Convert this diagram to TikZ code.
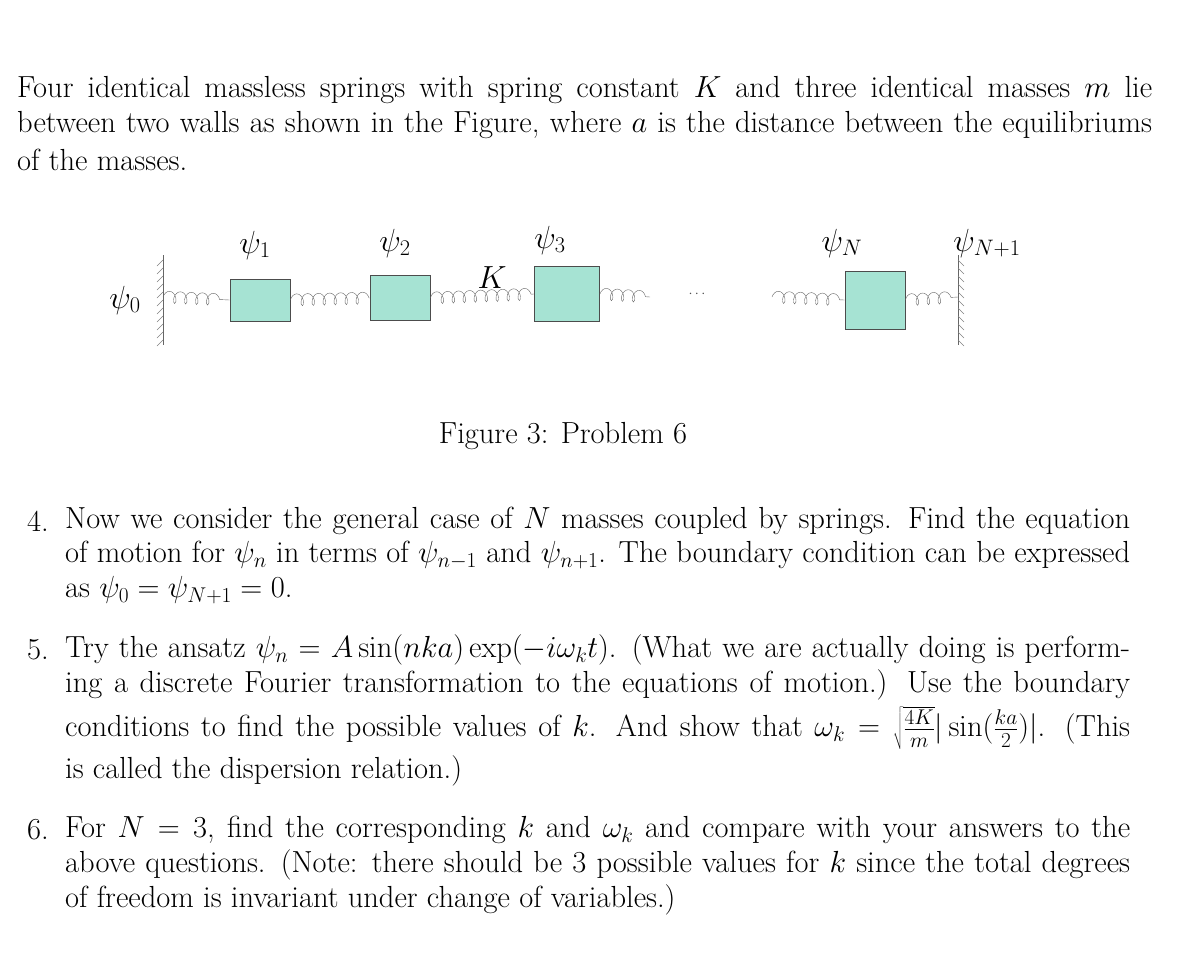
\documentclass[tikz,border=0pt]{standalone}
\usepackage{fix-cm}
\usetikzlibrary{decorations.pathmorphing}
\definecolor{massc}{HTML}{A6E3D3}
\begin{document}
\begin{tikzpicture}[x=1pt,y=-1pt,
  ln/.style={anchor=west,inner sep=0pt,font=\fontsize{30.5}{35}\selectfont},
  mass/.style={draw=black!70,fill=massc,thick},
  spr/.style={draw=black!60,decorate,decoration={coil,aspect=0.6,segment length=11pt,amplitude=6pt}},
  lab/.style={font=\fontsize{32}{32}\selectfont},
  wall/.style={draw=black!60,thick}]
\useasboundingbox (0,0) rectangle (1177,959);
\def\W{1135pt}
\node[ln] (l1) at (17,90) {\makebox[\W][s]{Four identical massless springs with spring constant $K$ and three identical masses $m$ lie}};
\node[ln] (l2) at (17,125) {\makebox[\W][s]{between two walls as shown in the Figure, where $a$ is the distance between the equilibriums}};
\node[ln] (l3) at (17,160) {of the masses.};
% figure
\draw[wall] (163,255) -- (163,345);
\foreach \y in {260,268,...,340} \draw[black!50] (163,\y) -- (157,\y+6);
\draw[wall] (958,255) -- (958,345);
\foreach \y in {260,268,...,340} \draw[black!50] (958,\y) -- (964,\y+6);
\node[mass,minimum width=60pt,minimum height=42pt] (m1) at (260,300) {};
\node[mass,minimum width=60pt,minimum height=45pt] (m2) at (400,298) {};
\node[mass,minimum width=65pt,minimum height=55pt] (m3) at (567,294) {};
\node[mass,minimum width=60pt,minimum height=58pt] (mN) at (875,300) {};
\coordinate (w1) at (163,297);
\coordinate (w2) at (958,297);
\coordinate (e3) at (650,297);
\coordinate (sN) at (772,297);
\draw[spr] (w1) -- (m1.west);
\draw[spr] (m1.east) -- (m2.west);
\draw[spr] (m2.east) -- (m3.west);
\draw[spr] (m3.east) -- (e3);
\draw[spr] (sN) -- (mN.west);
\draw[spr] (mN.east) -- (w2);
\node[black!70,font=\Large] (dots) at (697,294) {$\cdots$};
\node[lab] (p0) at (125,300) {$\psi_0$};
\node[lab] (p1) at (255,245) {$\psi_1$};
\node[lab] (p2) at (395,243) {$\psi_2$};
\node[lab] (p3) at (550,240) {$\psi_3$};
\node[lab] (pN) at (842,243) {$\psi_N$};
\node[lab] (pN1) at (987,243) {$\psi_{N+1}$};
\node[lab] (K) at (492,278) {$K$};
\node[ln,anchor=center] (cap) at (563,436) {Figure 3: Problem 6};
% items
\node[ln] (n4) at (27,521) {4.};
\node[ln] (a1) at (65,521) {\makebox[1065pt][s]{Now we consider the general case of $N$ masses coupled by springs. Find the equation}};
\node[ln] (a2) at (65,555) {\makebox[1065pt][s]{of motion for $\psi_n$ in terms of $\psi_{n-1}$ and $\psi_{n+1}$. The boundary condition can be expressed}};
\node[ln] (a3) at (65,590) {as $\psi_0=\psi_{N+1}=0$.};
\node[ln] (n5) at (27,650) {5.};
\node[ln] (b1) at (65,650) {\makebox[1065pt][s]{Try the ansatz $\psi_n=A\sin(nka)\exp(-i\omega_kt)$. (What we are actually doing is perform-}};
\node[ln] (b2) at (65,685) {\makebox[1065pt][s]{ing a discrete Fourier transformation to the equations of motion.) Use the boundary}};
\node[ln] (b3) at (65,728) {\makebox[1065pt][s]{conditions to find the possible values of $k$. And show that $\omega_k=\sqrt{\frac{4K}{m}}|\sin(\frac{ka}{2})|$. (This}};
\node[ln] (b4) at (65,771) {is called the dispersion relation.)};
\node[ln] (n6) at (27,830) {6.};
\node[ln] (c1) at (65,830) {\makebox[1065pt][s]{For $N=3$, find the corresponding $k$ and $\omega_k$ and compare with your answers to the}};
\node[ln] (c2) at (65,865) {\makebox[1065pt][s]{above questions. (Note: there should be 3 possible values for $k$ since the total degrees}};
\node[ln] (c3) at (65,900) {of freedom is invariant under change of variables.)};
\end{tikzpicture}
\end{document}
